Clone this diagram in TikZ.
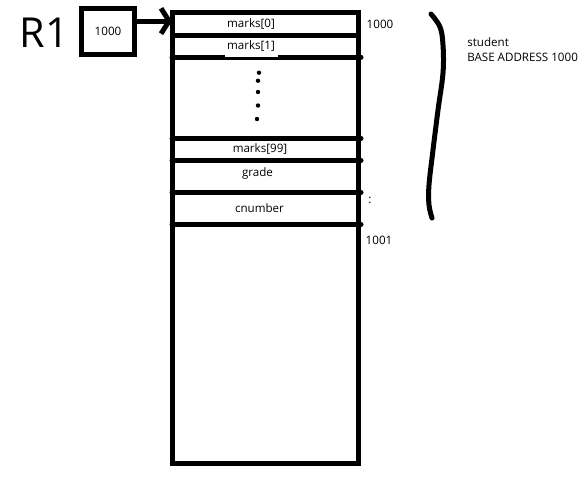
\documentclass[tikz,border=0pt]{standalone}
\usepackage{fontspec}
\setmainfont{Open Sans}
\usetikzlibrary{arrows.meta}
\begin{document}
\begin{tikzpicture}[x=0.75pt,y=-0.75pt,
  heavy/.style={line width=3.75pt},
  lbl/.style={font=\fontsize{8.7}{10}\selectfont, inner sep=0pt},
  rowline/.style={line width=3.75pt, line cap=round},
  memdot/.style={fill=black}]
\useasboundingbox (0,0) rectangle (581,476);
% memory block
\node[draw, heavy, outer sep=0pt, inner sep=0pt, minimum width=139.5pt, minimum height=337.9pt] (mem) at (265,237.75) {};
% row separators
\draw[heavy] (172,35.5) -- (358,35.5);
\draw[rowline] (172,57) -- (361,57);
\draw[rowline] (172,138.5) -- (361,138.5);
\draw[rowline] (172,160.5) -- (361,160.5);
\draw[rowline] (172,192.5) -- (361,192.5);
\draw[rowline] (172,224.5) -- (361,224.5);
% white patch behind marks[1]
\fill[white] (225,39) rectangle (278,56.8);
% labels in rows
\node[lbl] (m0) at (251,24) {marks[0]};
\node[lbl] (m1) at (251,46.5) {marks[1]};
\node[lbl] (m99) at (260,149) {marks[99]};
\node[lbl] (grade) at (257.5,173) {grade};
\node[lbl] (cnum) at (259.5,208) {cnumber};
% dots
\fill[memdot] (259,72.7) circle (2.2);
\fill[memdot] (258,80.7) circle (2.2);
\fill[memdot] (258,92) circle (2.2);
\fill[memdot] (258,105.5) circle (2.2);
\fill[memdot] (257,119) circle (2.2);
% R1 register
\node[font=\fontsize{31}{33}\selectfont, inner sep=0pt] (r1) at (44.5,33) {R1};
\node[draw, heavy, outer sep=0pt, inner sep=0pt, minimum width=39.75pt, minimum height=34.5pt, lbl] (r1box) at (108,31.5) {1000};
\draw[heavy, -{Straight Barb[length=6pt, width=19pt]}] (r1box.east |- 0,21) -- (mem.west |- 0,21);
% addresses
\node[lbl] (a1000) at (380,24) {1000};
\node[lbl] (colon) at (370,200) {:};
\node[lbl] (a1001) at (379,240) {1001};
% brace
\draw[heavy, line cap=round] plot[smooth, tension=0.6] coordinates {(431,14) (440,27) (443,45) (443,73) (438,110) (433,150) (429,185) (429,205) (432,218)};
\node[lbl, anchor=west] (stu) at (467,42) {student};
\node[lbl, anchor=west] (base) at (467,57) {BASE ADDRESS 1000};
\end{tikzpicture}
\end{document}
